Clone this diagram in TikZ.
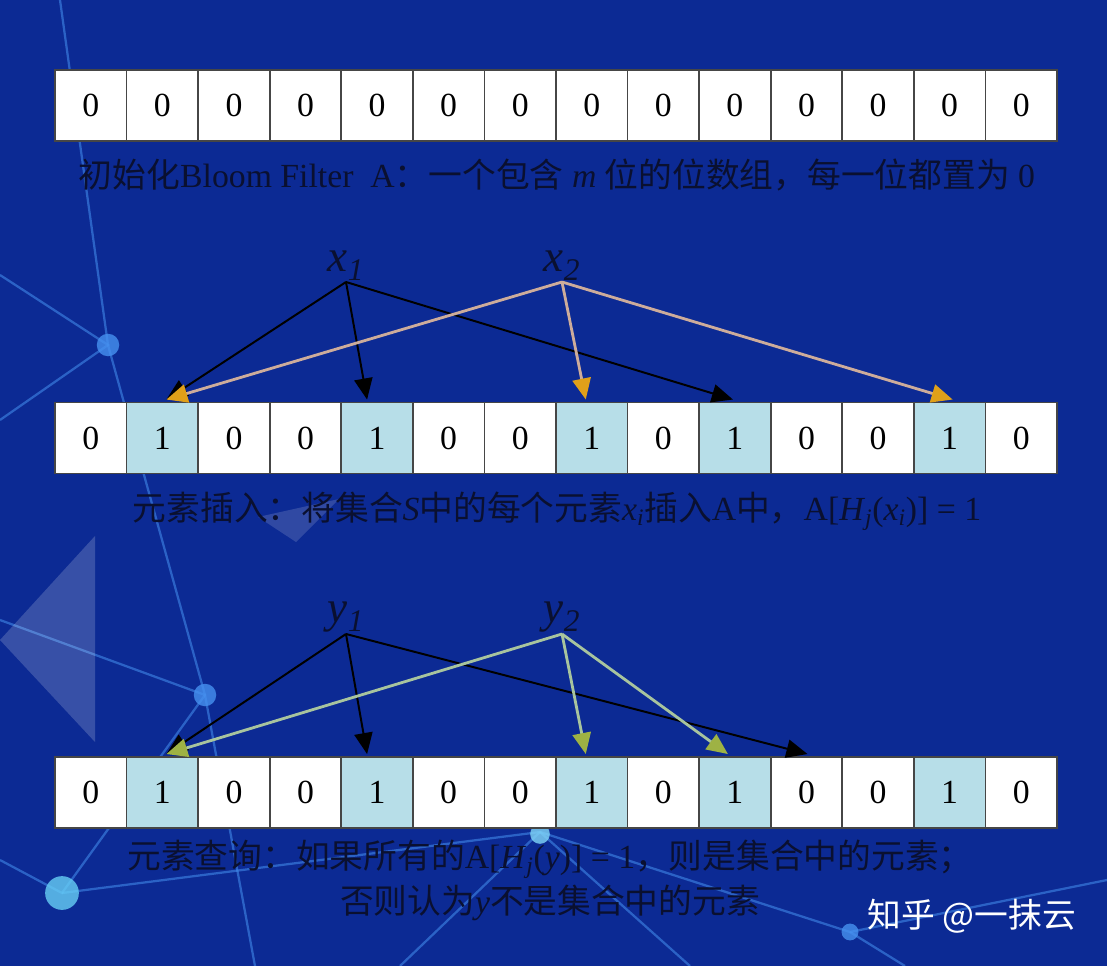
\documentclass[tikz,border=0pt]{standalone}
\usepackage{fontspec}
\setmainfont{Liberation Serif}
\newfontfamily\cjk{Noto Sans CJK SC}
\usetikzlibrary{arrows.meta}
\usetikzlibrary{positioning}

\definecolor{bgblue}{RGB}{12,42,148}
\definecolor{netblue}{RGB}{70,145,240}
\definecolor{onecell}{RGB}{183,222,232}
\definecolor{capink}{RGB}{10,16,48}
\definecolor{xline}{RGB}{205,172,155}
\definecolor{xhead}{RGB}{224,160,25}
\definecolor{yline}{RGB}{168,196,158}
\definecolor{yhead}{RGB}{158,178,68}

\newcommand{\zh}[1]{{\cjk #1}}
\newcommand{\vsub}[2]{\textit{#1}\textsubscript{\textit{#2}}}

\begin{document}
\begin{tikzpicture}[
	x=0.025cm, y=-0.025cm,
  > = {Triangle[length=15pt,width=13pt]},
  cell/.style = {draw=gray!55!black, line width=1.2pt, fill=white, minimum width=1.789cm,
    minimum height=1.78cm, inner sep=0pt, font=\fontsize{24}{24}\selectfont},
  bit0/.style = {cell},
  bit1/.style = {cell, fill=onecell},
  lbl/.style = {inner sep=1pt, font=\fontsize{32}{32}\selectfont, text=capink},
  caption/.style = {inner sep=0pt, font=\fontsize{24}{32}\selectfont, text=capink, align=center},
  hash/.style = {->, line width=1.4pt, black},
  hashx/.style = {-{Triangle[length=15pt,width=13pt,color=xhead]}, line width=2pt, xline},
  hashy/.style = {-{Triangle[length=15pt,width=13pt,color=yhead]}, line width=2pt, yline},
  net/.style = {netblue, line width=1.6pt, opacity=0.55},
  glow/.style = {fill=netblue, circle, inner sep=0pt, opacity=0.8}
  ]
	\useasboundingbox (0,0) rectangle (1107,966);
	\fill[bgblue] (0,0) rectangle (1107,966);

	\draw[net] (60,0) -- (108,345) -- (205,695) -- (62,893) -- (0,860);
	\draw[net] (0,275) -- (108,345) -- (0,420);
	\draw[net] (0,620) -- (205,695) -- (255,966);
	\draw[net] (62,893) -- (540,832) -- (850,932) -- (1107,880);
	\draw[net] (540,832) -- (400,966);
	\draw[net] (540,832) -- (690,966);
	\draw[net] (850,932) -- (905,966);
	\fill[white, opacity=0.18] (0,640) -- (95,536) -- (95,742) -- cycle;
	\fill[white, opacity=0.15] (258,517) -- (339,499) -- (296,542) -- cycle;
	\node[glow, minimum size=16pt] at (108,345) {};
	\node[glow, minimum size=16pt] at (205,695) {};
	\node[glow, minimum size=24pt, fill=cyan!60!white] at (62,893) {};
	\node[glow, minimum size=14pt, fill=cyan!50!white] at (540,834) {};
	\node[glow, minimum size=12pt] at (850,932) {};

	\foreach \i in {0,...,13}
		\node[bit0] (a\i) at (90.8+71.57*\i,105.5) {0};
	\foreach \v [count=\i from 0] in {0,1,0,0,1,0,0,1,0,1,0,0,1,0} {
		\node[bit\v] (b\i) at (90.8+71.57*\i,438) {\v};
		\node[bit\v] (c\i) at (90.8+71.57*\i,792.5) {\v};
	}

	\node[caption] (capa) at (557,175) {\zh{初始化}Bloom Filter\ \ A\zh{：一个包含} \textit{m} \zh{位的位数组，每一位都置为} 0};
	\node[caption] (capb) at (557,511) {\zh{元素插入：将集合}\textit{S}\zh{中的每个元素}\vsub{x}{i}\zh{插入}A\zh{中，}A[\vsub{H}{j}(\vsub{x}{i})] = 1};
	\node[caption] (capc) at (550,880) {\zh{元素查询：如果所有的}A[\vsub{H}{j}(\textit{y})] = 1\zh{，则是集合中的元素；}\\ \zh{否则认为}\textit{y}\zh{不是集合中的元素}};

	\node[lbl, anchor=south] (x1) at (346,282) {\vsub{x}{1}};
	\node[lbl, anchor=south] (x2) at (562,282) {\vsub{x}{2}};
	\node[lbl, anchor=south] (y1) at (346,634) {\vsub{y}{1}};
	\node[lbl, anchor=south] (y2) at (562,634) {\vsub{y}{2}};

	\draw[hash] (x1.south) -- ([shift={(4,-2)}]b1.north);
	\draw[hash] (x1.south) -- ([shift={(-10,-2)}]b4.north);
	\draw[hash] (x1.south) -- ([shift={(-2,-2)}]b9.north);
	\draw[hashx] (x2.south) -- ([shift={(4,-2)}]b1.north);
	\draw[hashx] (x2.south) -- ([shift={(-6,-2)}]b7.north);
	\draw[hashx] (x2.south) -- ([shift={(3,-2)}]b12.north);

	\draw[hash] (y1.south) -- ([shift={(4,-2)}]c1.north);
	\draw[hash] (y1.south) -- ([shift={(-10,-2)}]c4.north);
	\draw[hash] (y1.south) -- ([shift={(1,-2)}]c10.north);
	\draw[hashy] (y2.south) -- ([shift={(4,-2)}]c1.north);
	\draw[hashy] (y2.south) -- ([shift={(-6,-2)}]c7.north);
	\draw[hashy] (y2.south) -- ([shift={(-7,-2)}]c9.north);

	\node[text=white, inner sep=0pt, font=\cjk\fontsize{24}{24}\selectfont] (mark) at (972,916) {知乎 @一抹云};

\end{tikzpicture}
\end{document}
